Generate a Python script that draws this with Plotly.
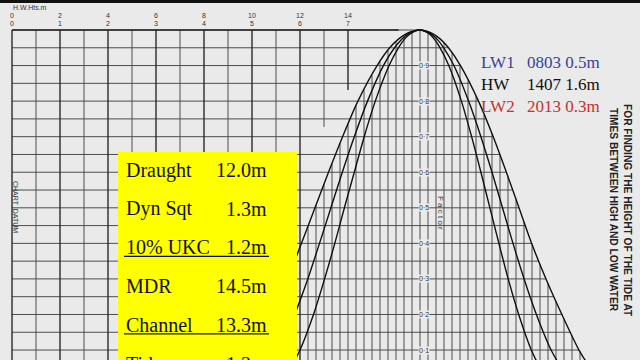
import numpy as np
import plotly.graph_objects as go

# ---------------- data ----------------
factor_levels = [1.0, 0.99, 0.975, 0.95, 0.9, 0.8, 0.7, 0.6, 0.5, 0.4, 0.3, 0.2, 0.1, 0.05]
# hours relative to HW (rising side, negative)
rise_outer  = [0, -0.45, -0.71, -1.01, -1.43, -2.07, -2.58, -3.05, -3.50, -3.95, -4.42, -4.93, -5.57, -6.00]
rise_middle = [0, -0.38, -0.60, -0.85, -1.22, -1.75, -2.19, -2.59, -2.97, -3.35, -3.74, -4.18, -4.72, -5.08]
rise_inner  = [0, -0.32, -0.51, -0.72, -1.03, -1.49, -1.86, -2.19, -2.52, -2.84, -3.18, -3.55, -4.00, -4.31]
# falling side, positive
fall_inner  = [0, 0.30, 0.47, 0.67, 0.96, 1.38, 1.72, 2.03, 2.33, 2.63, 2.94, 3.29, 3.71, 4.00]
fall_middle = [0, 0.35, 0.56, 0.79, 1.13, 1.62, 2.03, 2.40, 2.75, 3.10, 3.47, 3.88, 4.37, 4.71]
fall_outer  = [0, 0.42, 0.67, 0.95, 1.35, 1.95, 2.44, 2.88, 3.30, 3.72, 4.20, 4.73, 5.30, 5.67]

hw_heights = [0, 2, 4, 6, 8, 10, 12, 14]
lw_heights = [0, 1, 2, 3, 4, 5, 6, 7]
factor_ticks = [0.9, 0.8, 0.7, 0.6, 0.5, 0.4, 0.3, 0.2, 0.1]

tide_rows = [("Draught", "12.0m"), ("Dyn Sqt", "1.3m"), ("10% UKC", "1.2m"),
             ("MDR", "14.5m"), ("Channel", "13.3m"), ("Tide", "1.2m")]
underlined = ["10% UKC", "Channel"]

tides = [("LW1", "0803 0.5m", "#3a3f9a"), ("HW", "1407 1.6m", "#111111"),
         ("LW2", "2013 0.3m", "#c8312b")]

# ---------------- geometry ----------------
W, H = 640, 360
PX_PER_H = 30.0
HW_PX = 420.0
F1_PY = 30.0
PX_PER_F = 355.6
BG = "#eaeaea"

def t_of_px(px):
    return (px - HW_PX) / PX_PER_H

def f_of_py(py):
    return 1 - (py - F1_PY) / PX_PER_F

def px_x(px):
    return px / W

def px_y(py):
    return 1 - py / H

x_range = [t_of_px(0), t_of_px(W)]
y_range = [f_of_py(H), f_of_py(0)]

def m_to_t(m):  # HW height scale (1 m = 24 px, 0 at px 12)
    return t_of_px(12 + 24 * m)

fl = np.array(factor_levels)
ro = np.array(rise_outer)
fo = np.array(fall_outer)

def envelope(t):
    if t <= 0:
        return float(np.interp(t, ro[::-1], fl[::-1]))
    return float(np.interp(t, fo, fl))

fig = go.Figure()
GRID = "#4c4c4c"

# horizontal grid
hx, hy = [], []
for k in range(0, 23):
    f = round(1.0 - 0.05 * k, 3)
    xr = float(np.interp(f, fl[::-1], fo[::-1]))
    hx += [m_to_t(0), xr, None]
    hy += [f, f, None]
fig.add_trace(go.Scatter(x=hx, y=hy, mode="lines", line=dict(color=GRID, width=1),
                         hoverinfo="skip", showlegend=False))

# coarse vertical grid of the height section
cx_thin, cy_thin, cx_bold, cy_bold = [], [], [], []
for m in range(0, 15):
    bottom = -0.2
    if m == 13:
        bottom = f_of_py(127)
    if m == 14:
        bottom = f_of_py(90)
    if m % 2 == 0:
        cx_bold += [m_to_t(m), m_to_t(m), None]; cy_bold += [1.0, bottom, None]
    else:
        cx_thin += [m_to_t(m), m_to_t(m), None]; cy_thin += [1.0, bottom, None]
fig.add_trace(go.Scatter(x=cx_thin, y=cy_thin, mode="lines", line=dict(color=GRID, width=1),
                         hoverinfo="skip", showlegend=False))
fig.add_trace(go.Scatter(x=cx_bold, y=cy_bold, mode="lines", line=dict(color="#2a2a2a", width=1.4),
                         hoverinfo="skip", showlegend=False))

# fine vertical grid inside the curves
fx, fy = [], []
t = t_of_px(308)
while t < fo[-1]:
    top = envelope(t)
    fx += [t, t, None]; fy += [top, -0.2, None]
    t += 8 / PX_PER_H
fig.add_trace(go.Scatter(x=fx, y=fy, mode="lines", line=dict(color=GRID, width=1),
                         hoverinfo="skip", showlegend=False))

# top boundary line
fig.add_trace(go.Scatter(x=[m_to_t(0), rise_outer[2]], y=[1.0, 1.0], mode="lines",
                         line=dict(color="#222222", width=1.6), hoverinfo="skip", showlegend=False))

# curves: each bell = rising branch + falling branch
for rise, fall in [(rise_outer, fall_outer), (rise_middle, fall_middle), (rise_inner, fall_inner)]:
    xs = list(reversed(rise)) + list(fall[1:])
    ys = list(reversed(factor_levels)) + list(factor_levels[1:])
    fig.add_trace(go.Scatter(x=xs, y=ys, mode="lines",
                             line=dict(color="#111111", width=1.4, shape="spline", smoothing=0.8),
                             hoverinfo="skip", showlegend=False))

ann = []
LBL = dict(size=7, color="#333", family="Liberation Sans")

def note(px, py, text, font, xanchor="center", angle=0, **kw):
    ann.append(dict(x=px_x(px), y=px_y(py), xref="paper", yref="paper", text=text,
                    xanchor=xanchor, yanchor="middle", textangle=angle, showarrow=False,
                    font=font, **kw))

for fv in factor_ticks:
    ann.append(dict(x=t_of_px(424), y=fv, xref="x", yref="y", text="0·" + str(int(round(fv * 10))),
                    xanchor="center", yanchor="middle",
                    showarrow=False, font=LBL, bgcolor=BG, borderpad=0))
note(441, 213, "F a c t o r", dict(size=8, color="#333", family="Liberation Sans"), angle=90)
for hwv, lwv in zip(hw_heights, lw_heights):
    px = 12 + 24 * hwv
    note(px, 16, str(hwv), LBL)
    note(px, 24, str(lwv), LBL)
note(11, 7, "H.W.Hts.m", LBL, xanchor="left")
note(15, 207, "CHART  DATUM", dict(size=7, color="#333", family="Liberation Sans"), angle=90)
note(628, 210, "<b>FOR FINDING THE HEIGHT OF THE TIDE AT</b>",
     dict(size=10.2, color="#222", family="Liberation Sans"), angle=90)
note(614, 210, "<b>TIMES BETWEEN HIGH AND LOW WATER</b>",
     dict(size=10.2, color="#222", family="Liberation Sans"), angle=90)
for i, (a, b, c) in enumerate(tides):
    py = 62 + 22 * i
    note(479, py, a, dict(size=17, color=c, family="Liberation Serif"), xanchor="left")
    note(602, py, b, dict(size=17, color=c, family="Liberation Serif"), xanchor="right")

shapes = []
shapes.append(dict(type="rect", xref="paper", yref="paper", x0=px_x(118), x1=px_x(297),
                   y0=px_y(380), y1=px_y(152), fillcolor="#ffff00", line=dict(width=0), layer="above"))
for i, (lab, val) in enumerate(tide_rows):
    py = 170 + 38.7 * i
    note(124, py, lab, dict(size=20, color="#111", family="Liberation Serif"), xanchor="left")
    note(269, py, val, dict(size=20, color="#111", family="Liberation Serif"), xanchor="right")
    if lab in underlined:
        shapes.append(dict(type="line", xref="paper", yref="paper", x0=px_x(124), x1=px_x(269),
                           y0=px_y(py + 9), y1=px_y(py + 9), line=dict(color="#111", width=1.2),
                           layer="above"))
shapes.append(dict(type="rect", xref="paper", yref="paper", x0=0, x1=1, y0=px_y(3), y1=1,
                   fillcolor="#111111", line=dict(width=0), layer="above"))

fig.update_layout(width=W, height=H, margin=dict(l=0, r=0, t=0, b=0),
                  paper_bgcolor=BG, plot_bgcolor=BG,
                  xaxis=dict(range=x_range, visible=False, fixedrange=True),
                  yaxis=dict(range=y_range, visible=False, fixedrange=True),
                  annotations=ann, shapes=shapes, showlegend=False)
fig.write_html("out.html")
